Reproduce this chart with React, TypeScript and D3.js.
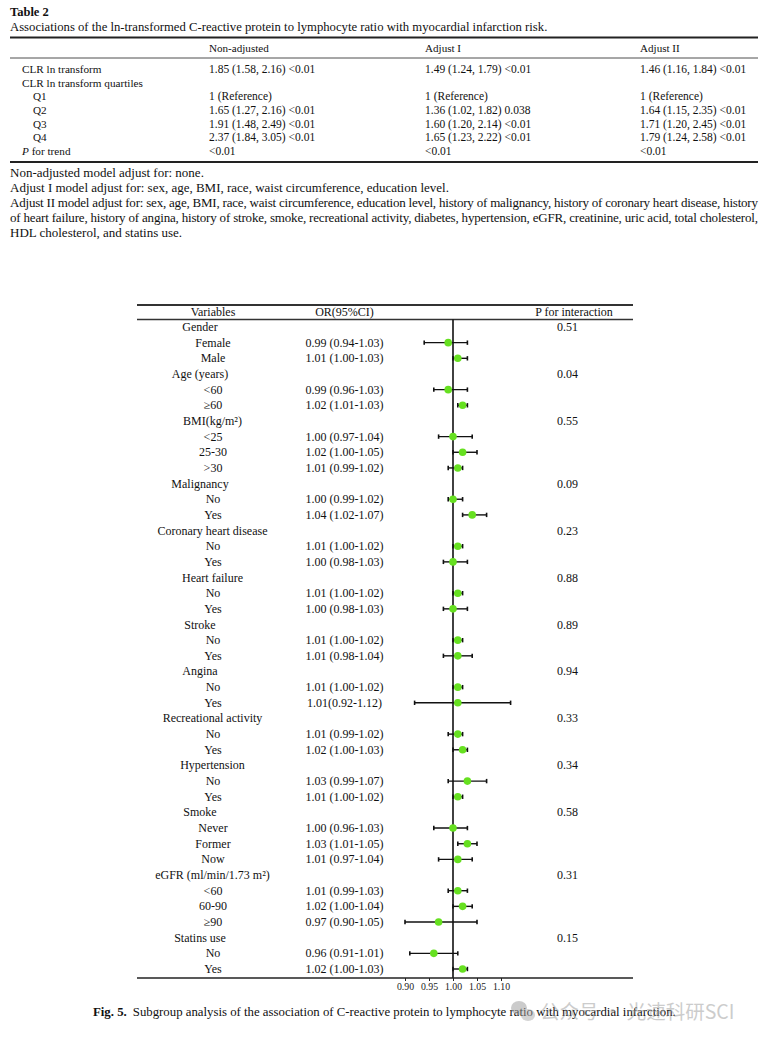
import React, { useEffect, useRef } from "react";
import * as d3 from "d3";

// ---------- Table 2 data ----------
const tableTitle = "Table 2";
const tableSubtitle =
  "Associations of the ln-transformed C-reactive protein to lymphocyte ratio with myocardial infarction risk.";
const tableColumns = ["Non-adjusted", "Adjust I", "Adjust II"];
const tableRowLabels = [
  "CLR ln transform",
  "CLR ln transform quartiles",
  "Q1",
  "Q2",
  "Q3",
  "Q4",
  "P for trend",
];
const nonAdjusted = [
  "1.85 (1.58, 2.16) <0.01",
  "",
  "1 (Reference)",
  "1.65 (1.27, 2.16) <0.01",
  "1.91 (1.48, 2.49) <0.01",
  "2.37 (1.84, 3.05) <0.01",
  "<0.01",
];
const adjustI = [
  "1.49 (1.24, 1.79) <0.01",
  "",
  "1 (Reference)",
  "1.36 (1.02, 1.82) 0.038",
  "1.60 (1.20, 2.14) <0.01",
  "1.65 (1.23, 2.22) <0.01",
  "<0.01",
];
const adjustII = [
  "1.46 (1.16, 1.84) <0.01",
  "",
  "1 (Reference)",
  "1.64 (1.15, 2.35) <0.01",
  "1.71 (1.20, 2.45) <0.01",
  "1.79 (1.24, 2.58) <0.01",
  "<0.01",
];
const footnotes = [
  "Non-adjusted model adjust for: none.",
  "Adjust I model adjust for: sex, age, BMI, race, waist circumference, education level.",
  "Adjust II model adjust for: sex, age, BMI, race, waist circumference, education level, history of malignancy, history of coronary heart disease, history",
  "of heart failure, history of angina, history of stroke, smoke, recreational activity, diabetes, hypertension, eGFR, creatinine, uric acid, total cholesterol,",
  "HDL cholesterol, and statins use.",
];

// ---------- Forest plot data ----------
const variables = [
  "Gender", "Female", "Male",
  "Age (years)", "<60", "≥60",
  "BMI(kg/m²)", "<25", "25-30", ">30",
  "Malignancy", "No", "Yes",
  "Coronary heart disease", "No", "Yes",
  "Heart failure", "No", "Yes",
  "Stroke", "No", "Yes",
  "Angina", "No", "Yes",
  "Recreational activity", "No", "Yes",
  "Hypertension", "No", "Yes",
  "Smoke", "Never", "Former", "Now",
  "eGFR (ml/min/1.73 m²)", "<60", "60-90", "≥90",
  "Statins use", "No", "Yes",
];
const orValues: (number | null)[] = [
  null, 0.99, 1.01,
  null, 0.99, 1.02,
  null, 1.0, 1.02, 1.01,
  null, 1.0, 1.04,
  null, 1.01, 1.0,
  null, 1.01, 1.0,
  null, 1.01, 1.01,
  null, 1.01, 1.01,
  null, 1.01, 1.02,
  null, 1.03, 1.01,
  null, 1.0, 1.03, 1.01,
  null, 1.01, 1.02, 0.97,
  null, 0.96, 1.02,
];
const ciLower: (number | null)[] = [
  null, 0.94, 1.0,
  null, 0.96, 1.01,
  null, 0.97, 1.0, 0.99,
  null, 0.99, 1.02,
  null, 1.0, 0.98,
  null, 1.0, 0.98,
  null, 1.0, 0.98,
  null, 1.0, 0.92,
  null, 0.99, 1.0,
  null, 0.99, 1.0,
  null, 0.96, 1.01, 0.97,
  null, 0.99, 1.0, 0.9,
  null, 0.91, 1.0,
];
const ciUpper: (number | null)[] = [
  null, 1.03, 1.03,
  null, 1.03, 1.03,
  null, 1.04, 1.05, 1.02,
  null, 1.02, 1.07,
  null, 1.02, 1.03,
  null, 1.02, 1.03,
  null, 1.02, 1.04,
  null, 1.02, 1.12,
  null, 1.02, 1.03,
  null, 1.07, 1.02,
  null, 1.03, 1.05, 1.04,
  null, 1.03, 1.04, 1.05,
  null, 1.01, 1.03,
];
const orLabels = [
  "", "0.99 (0.94-1.03)", "1.01 (1.00-1.03)",
  "", "0.99 (0.96-1.03)", "1.02 (1.01-1.03)",
  "", "1.00 (0.97-1.04)", "1.02 (1.00-1.05)", "1.01 (0.99-1.02)",
  "", "1.00 (0.99-1.02)", "1.04 (1.02-1.07)",
  "", "1.01 (1.00-1.02)", "1.00 (0.98-1.03)",
  "", "1.01 (1.00-1.02)", "1.00 (0.98-1.03)",
  "", "1.01 (1.00-1.02)", "1.01 (0.98-1.04)",
  "", "1.01 (1.00-1.02)", "1.01(0.92-1.12)",
  "", "1.01 (0.99-1.02)", "1.02 (1.00-1.03)",
  "", "1.03 (0.99-1.07)", "1.01 (1.00-1.02)",
  "", "1.00 (0.96-1.03)", "1.03 (1.01-1.05)", "1.01 (0.97-1.04)",
  "", "1.01 (0.99-1.03)", "1.02 (1.00-1.04)", "0.97 (0.90-1.05)",
  "", "0.96 (0.91-1.01)", "1.02 (1.00-1.03)",
];
const pInteraction = [
  "0.51", "", "",
  "0.04", "", "",
  "0.55", "", "", "",
  "0.09", "", "",
  "0.23", "", "",
  "0.88", "", "",
  "0.89", "", "",
  "0.94", "", "",
  "0.33", "", "",
  "0.34", "", "",
  "0.58", "", "", "",
  "0.31", "", "", "",
  "0.15", "", "",
];
const axisTicks = [0.9, 0.95, 1.0, 1.05, 1.1];
const forestHeaders = ["Variables", "OR(95%CI)", "P for interaction"];
const captionBold = "Fig. 5.";
const captionText =
  "Subgroup analysis of the association of C-reactive protein to lymphocyte ratio with myocardial infarction.";
const watermark = "公众号 · 光速科研SCI";

const SERIF = "'Liberation Serif', 'Times New Roman', serif";
const GREEN = "#66e020";

export default function App() {
  const ref = useRef<SVGSVGElement | null>(null);

  useEffect(() => {
    const svg = d3.select(ref.current);
    svg.selectAll("*").remove();

    // ===== Table 2 =====
    const t = svg.append("g").attr("font-family", SERIF).attr("fill", "#111");
    t.append("text").attr("x", 10).attr("y", 16).attr("font-size", 12.5)
      .attr("font-weight", "bold").text(tableTitle);
    t.append("text").attr("x", 10).attr("y", 31).attr("font-size", 12.7)
      .text(tableSubtitle);
    t.append("line").attr("x1", 10).attr("x2", 758).attr("y1", 37.5).attr("y2", 37.5)
      .attr("stroke", "#222").attr("stroke-width", 2);
    const colX = [209, 425, 640];
    tableColumns.forEach((c, i) => {
      t.append("text").attr("x", colX[i]).attr("y", 52).attr("font-size", 11.1).text(c);
    });
    t.append("line").attr("x1", 10).attr("x2", 758).attr("y1", 58).attr("y2", 58)
      .attr("stroke", "#222").attr("stroke-width", 0.8);

    const rowY = d3.scalePoint<number>().domain(d3.range(tableRowLabels.length)).range([73, 155]);
    const cols = [nonAdjusted, adjustI, adjustII];
    tableRowLabels.forEach((lab, i) => {
      const indent = /^Q\d$/.test(lab) ? 33 : 22;
      const tx = t.append("text").attr("x", indent).attr("y", rowY(i)!).attr("font-size", 11.2);
      if (lab.startsWith("P ")) {
        tx.append("tspan").attr("font-style", "italic").text("P");
        tx.append("tspan").text(lab.slice(1));
      } else tx.text(lab);
      cols.forEach((col, j) => {
        if (col[i]) t.append("text").attr("x", colX[j]).attr("y", rowY(i)!).attr("font-size", 11.5).text(col[i]);
      });
    });
    t.append("line").attr("x1", 10).attr("x2", 758).attr("y1", 162).attr("y2", 162)
      .attr("stroke", "#222").attr("stroke-width", 2);

    const fnY = d3.scalePoint<number>().domain(d3.range(footnotes.length)).range([177, 237]);
    footnotes.forEach((f, i) => {
      const el = t.append("text").attr("x", 10).attr("y", fnY(i)!).attr("font-size", 13).text(f);
      if (i === 2 || i === 3) el.attr("textLength", 748).attr("lengthAdjust", "spacing");
    });

    // ===== Forest plot =====
    const left = 137, right = 633;
    const f = svg.append("g").attr("font-family", SERIF).attr("fill", "#111");
    const x = d3.scaleLinear().domain([0.9, 1.1]).range([405, 501]);
    const y = d3.scalePoint<number>().domain(d3.range(variables.length)).range([327, 969]);
    const axisY = 978;
    const colVar = 213, colOR = 344.5, colP = 567.5;
    const FS = 12;

    f.append("line").attr("x1", left).attr("x2", right).attr("y1", 305).attr("y2", 305)
      .attr("stroke", "#333").attr("stroke-width", 2);
    f.append("line").attr("x1", left).attr("x2", right).attr("y1", 319.5).attr("y2", 319.5)
      .attr("stroke", "#333").attr("stroke-width", 1.6);
    const hdrX = [colVar, colOR, 574];
    forestHeaders.forEach((h, i) => {
      f.append("text").attr("x", hdrX[i]).attr("y", 316).attr("text-anchor", "middle")
        .attr("font-size", FS).text(h);
    });

    // reference line
    f.append("line").attr("x1", x(1)).attr("x2", x(1)).attr("y1", 319.5).attr("y2", axisY)
      .attr("stroke", "#111").attr("stroke-width", 1.6);

    variables.forEach((v, i) => {
      const cy = y(i)!;
      const isGroup = orValues[i] === null;
      const lab = f.append("text").attr("y", cy + 4).attr("font-size", FS)
        .attr("text-anchor", "middle").text(v);
      if (isGroup) {
        const w = (lab.node() as SVGTextElement).getComputedTextLength();
        lab.attr("x", w < 58 ? 200 : 212.5);
      } else {
        lab.attr("x", colVar);
      }
      if (orLabels[i]) {
        f.append("text").attr("x", colOR).attr("y", cy + 4).attr("font-size", FS)
          .attr("text-anchor", "middle").text(orLabels[i]);
      }
      if (pInteraction[i]) {
        f.append("text").attr("x", colP).attr("y", cy + 4).attr("font-size", FS)
          .attr("text-anchor", "middle").text(pInteraction[i]);
      }
      if (!isGroup) {
        const lo = ciLower[i]!, hi = ciUpper[i]!, or = orValues[i]!;
        f.append("line").attr("x1", x(lo)).attr("x2", x(hi)).attr("y1", cy).attr("y2", cy)
          .attr("stroke", "#111").attr("stroke-width", 1.4);
        [lo, hi].forEach((e) => {
          f.append("line").attr("x1", x(e)).attr("x2", x(e)).attr("y1", cy - 2.2).attr("y2", cy + 2.2)
            .attr("stroke", "#111").attr("stroke-width", 1.6);
        });
        f.append("circle").attr("cx", x(or)).attr("cy", cy).attr("r", 3.8).attr("fill", GREEN);
      }
    });

    // axis
    f.append("line").attr("x1", left).attr("x2", right).attr("y1", axisY).attr("y2", axisY)
      .attr("stroke", "#222").attr("stroke-width", 1.5);
    const ax = f.append("g").attr("transform", `translate(0,${axisY})`)
      .call(d3.axisBottom(x).tickValues(axisTicks).tickSize(3).tickPadding(2).tickFormat(d3.format(".2f")));
    ax.select(".domain").remove();
    ax.selectAll("line").attr("stroke", "#222");
    ax.selectAll("text").attr("font-family", SERIF).attr("font-size", 9.8).attr("fill", "#222");

    // caption
    const cap = svg.append("text").attr("x", 93).attr("y", 1016).attr("font-family", SERIF)
      .attr("font-size", 12.8).attr("fill", "#111");
    cap.append("tspan").attr("font-weight", "bold").text(captionBold);
    cap.append("tspan").attr("dx", 6).text(captionText);

    // watermark
    const wm = svg.append("g").attr("opacity", 0.5);
    wm.append("ellipse").attr("cx", 519).attr("cy", 1008).attr("rx", 8).attr("ry", 7).attr("fill", "#999");
    wm.append("ellipse").attr("cx", 528).attr("cy", 1015).attr("rx", 7).attr("ry", 6).attr("fill", "#aaa");
    wm.append("text").attr("x", 540).attr("y", 1019).attr("font-family", "'Noto Sans CJK SC', sans-serif")
      .attr("font-size", 19.5).attr("fill", "#9a9a9a").text(watermark);
  }, []);

  return (
    <svg
      ref={ref}
      width={768}
      height={1040}
      style={{ position: "absolute", left: 0, top: 0, background: "#fff" }}
    />
  );
}
